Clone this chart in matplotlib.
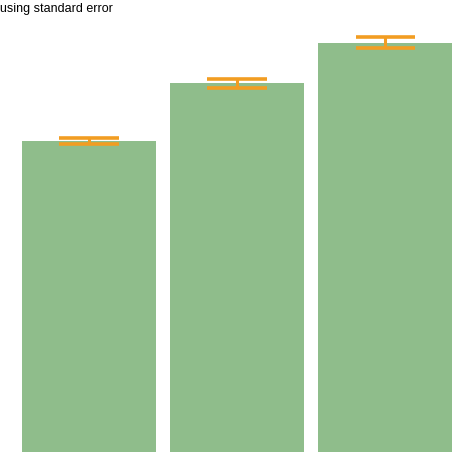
import numpy as np
import matplotlib.pyplot as plt

# iris Sepal.Length summary by species
species = ["setosa", "versicolor", "virginica"]
means = [5.006, 5.936, 6.588]
se = [0.0498, 0.0730, 0.0899]

fig = plt.figure(figsize=(4.74, 4.74), dpi=100)
ax = fig.add_axes([0, 0, 1, 1])

bar_col = "#8fbd8b"
err_col = "#f29d22"

x = np.arange(len(species))
ax.bar(x, means, width=0.9, color=bar_col, linewidth=0)
lo = np.array(means) - np.array(se)
hi = np.array(means) + np.array(se)
ax.vlines(x, lo, hi, color=err_col, linewidth=2.2)
for xi, l, h in zip(x, lo, hi):
    ax.hlines([l, h], xi - 0.2, xi + 0.2, color=err_col, linewidth=2.6)

ax.set_xlim(-0.6, 2.6)
ax.set_ylim(-0.354, 7.279)
ax.axis("off")

fig.text(0.0, 1 - 3 / 474, "using standard error", ha="left", va="top",
         fontsize=9, family="Liberation Sans", color="black")

fig.savefig("out.png", dpi=100)
plt.close(fig)
